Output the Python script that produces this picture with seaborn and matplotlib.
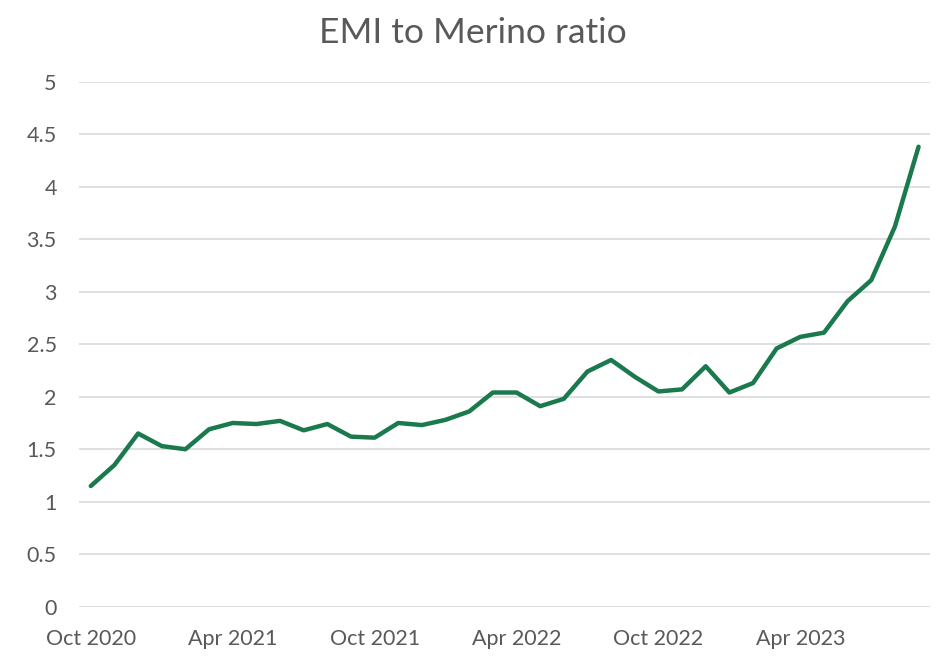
import numpy as np
import pandas as pd
import matplotlib.pyplot as plt
import seaborn as sns

# monthly ratio, Oct 2020 .. Sep 2023
months = pd.date_range("2020-10-01", periods=36, freq="MS")
ratio = [1.15, 1.35, 1.65, 1.53, 1.50, 1.69, 1.75, 1.74, 1.77, 1.68,
         1.74, 1.62, 1.61, 1.75, 1.73, 1.78, 1.86, 2.04, 2.04, 1.91,
         1.98, 2.24, 2.35, 2.19, 2.05, 2.07, 2.29, 2.04, 2.13, 2.46,
         2.57, 2.61, 2.91, 3.11, 3.62, 4.38]
tick_idx = [0, 6, 12, 18, 24, 30]

df = pd.DataFrame({"idx": np.arange(len(ratio)), "ratio": ratio})

sns.set_theme(style="white")
plt.rcParams["font.family"] = ["Lato", "DejaVu Sans"]
grey = "#595959"

fig = plt.figure(figsize=(9.46, 6.69), dpi=100)
ax = fig.add_axes([0.0835, 0.093, 0.9, 0.785])

sns.lineplot(data=df, x="idx", y="ratio", ax=ax, color="#1b7a4d", linewidth=3.2)

ax.set_ylim(0, 5)
ax.set_yticks(np.arange(0, 5.01, 0.5))
ax.set_yticklabels([f"{v:g}" for v in np.arange(0, 5.01, 0.5)])
ax.set_xlim(-0.5, len(ratio) - 0.5)
ax.set_xticks(tick_idx)
ax.set_xticklabels([months[i].strftime("%b %Y") for i in tick_idx])

ax.grid(axis="y", color="#d9d9d9", linewidth=1.2)
ax.set_axisbelow(True)
for s in ax.spines.values():
    s.set_visible(False)
ax.tick_params(axis="both", length=0, labelsize=15.5, colors=grey)
ax.tick_params(axis="x", pad=16)
ax.tick_params(axis="y", pad=16)
ax.set_xlabel("")
ax.set_ylabel("")

fig.text(0.5, 0.951, "EMI to Merino ratio", ha="center", va="center",
         fontsize=25.5, color=grey)

fig.savefig("out.png", dpi=100)
